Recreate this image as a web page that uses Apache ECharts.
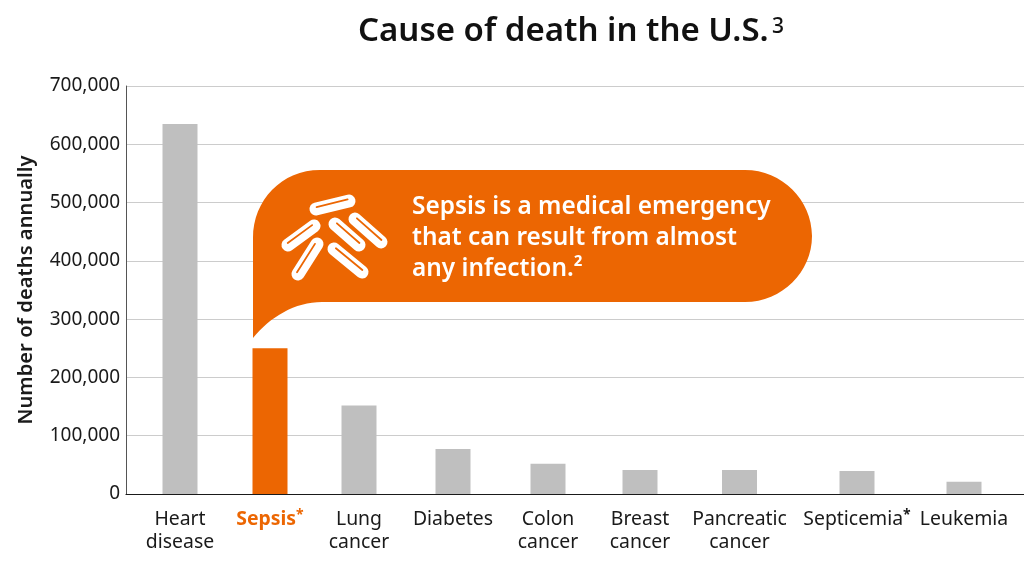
<!DOCTYPE html>
<html>
<head>
<meta charset="utf-8">
<style>html,body{margin:0;padding:0;background:#fff}#chart{width:1024px;height:576px}</style>
<script src="https://cdn.jsdelivr.net/npm/echarts@6/dist/echarts.min.js"></script>
</head>
<body>
<div id="chart"></div>
<script>
// Leading causes of death in the U.S., deaths per year
const causes = ['Heart\ndisease', 'Sepsis', 'Lung\ncancer', 'Diabetes', 'Colon\ncancer', 'Breast\ncancer', 'Pancreatic\ncancer', 'Septicemia', 'Leukemia'];
const deaths = [635000, 250000, 152000, 77000, 52000, 41000, 41000, 39500, 21000];
// Column centres along the horizontal scale; the columns are unevenly spaced
const slots = [180, 270, 359, 453, 548, 640, 739.5, 857, 964];
const yTicks = [0, 100000, 200000, 300000, 400000, 500000, 600000, 700000];

const ORANGE = '#ec6602';
const GREY = '#bfbfbf';
const INK = '#1a1a1a';
const FONT = '"Noto Sans", sans-serif';

// Speech-bubble outline behind the sepsis note
echarts.graphic.registerShape('calloutBubble', echarts.graphic.extendShape({
  shape: {},
  buildPath(ctx) {
    ctx.moveTo(253, 338);
    ctx.lineTo(253, 238);
    ctx.bezierCurveTo(253, 200, 282, 170, 320, 170);
    ctx.lineTo(745, 170);
    ctx.bezierCurveTo(782, 170, 812, 200, 812, 236);
    ctx.bezierCurveTo(812, 272, 782, 302, 745, 302);
    ctx.lineTo(322, 302);
    ctx.bezierCurveTo(295, 302, 270, 317, 253, 338);
    ctx.closePath();
  }
}));

// Bacteria glyph inside the callout: capsule end points
const bacteria = [
  [[316, 209], [349, 201]],
  [[288, 245], [314, 226]],
  [[298, 274], [317, 244]],
  [[335, 224], [359, 245]],
  [[355, 219], [381, 242]],
  [[334, 249], [362, 272]]
];
const glyph = [];
bacteria.forEach(([a, b]) => {
  const dx = b[0] - a[0], dy = b[1] - a[1];
  const len = Math.hypot(dx, dy);
  const ux = dx / len, uy = dy / len;
  // The highlight inside each capsule sits toward its upper edge
  const sign = ux * 1 > 0 ? 1 : -1;
  const nx = uy * sign * 1.8, ny = -ux * sign * 1.8;
  glyph.push({ type: 'line', shape: { x1: a[0], y1: a[1], x2: b[0], y2: b[1] },
    style: { stroke: '#fff', lineWidth: 13, lineCap: 'round' }, z: 11 });
  glyph.push({ type: 'line',
    shape: { x1: a[0] + ux * 1 + nx, y1: a[1] + uy * 1 + ny, x2: b[0] - ux * 1 + nx, y2: b[1] - uy * 1 + ny },
    style: { stroke: ORANGE, lineWidth: 1.8, lineCap: 'round' }, z: 12 });
});

const chart = echarts.init(document.getElementById('chart'), null, { renderer: 'canvas' });
chart.setOption({
  animation: false,
  backgroundColor: '#fff',
  textStyle: { fontFamily: FONT },
  grid: { left: 126, right: 0, top: 86, bottom: 82, outerBoundsMode: 'none' },
  xAxis: {
    type: 'value', min: 126, max: 1024,
    splitLine: { show: false },
    axisLine: { show: true, lineStyle: { color: INK, width: 1.2 } },
    axisTick: { show: false },
    axisLabel: {
      customValues: slots,
      margin: 14, interval: 0, lineHeight: 23, fontSize: 19.4, color: INK, fontFamily: FONT,
      showMinLabel: true, showMaxLabel: true, hideOverlap: false,
      formatter: v => {
        const name = causes[slots.indexOf(v)];
        if (name === 'Sepsis') return '{hi|Sepsis}{hiStar|*}';
        if (name === 'Septicemia') return 'Septicemia{star|*}';
        return name;
      },
      rich: {
        hi: { color: ORANGE, fontWeight: 700, fontSize: 19.4, fontFamily: FONT },
        hiStar: { color: ORANGE, fontSize: 14, fontWeight: 700, fontFamily: FONT, verticalAlign: 'top' },
        star: { color: INK, fontSize: 14, fontWeight: 700, fontFamily: FONT, verticalAlign: 'top' }
      }
    }
  },
  yAxis: {
    type: 'value', min: 0, max: 700000, interval: 100000,
    name: 'Number of deaths annually',
    nameLocation: 'middle', nameGap: 90, nameRotate: 90,
    nameTextStyle: { fontSize: 20.2, fontWeight: 600, color: INK, fontFamily: FONT },
    axisLine: { show: true, lineStyle: { color: '#555', width: 1 } },
    axisTick: { show: false },
    splitLine: { show: true, lineStyle: { color: '#cccccc', width: 1.2 } },
    axisLabel: {
      margin: 6, fontSize: 19, color: INK, fontFamily: FONT, padding: [6, 0, 0, 0],
      formatter: v => yTicks.includes(v) ? v.toLocaleString('en-US') : ''
    }
  },
  series: [{
    type: 'bar',
    barWidth: 35,
    data: deaths.map((d, i) => ({
      value: [slots[i], d],
      itemStyle: { color: causes[i] === 'Sepsis' ? ORANGE : GREY }
    }))
  }],
  graphic: [
    { type: 'text', left: 358, top: 15,
      style: { text: 'Cause of death in the U.S.', fontSize: 33, fontWeight: 600, fill: '#111', fontFamily: FONT } },
    { type: 'text', left: 772, top: 17,
      style: { text: '3', fontSize: 21, fontWeight: 500, fill: '#111', fontFamily: FONT } },
    { type: 'calloutBubble', z: 10, shape: {}, style: { fill: ORANGE } },
    ...glyph,
    { type: 'text', z: 13, left: 412, top: 192,
      style: { text: 'Sepsis is a medical emergency\nthat can result from almost\nany infection.²',
        fontSize: 24.4, fontWeight: 600, lineHeight: 31, fill: '#fff', fontFamily: FONT } }
  ]
});
</script>
</body>
</html>
